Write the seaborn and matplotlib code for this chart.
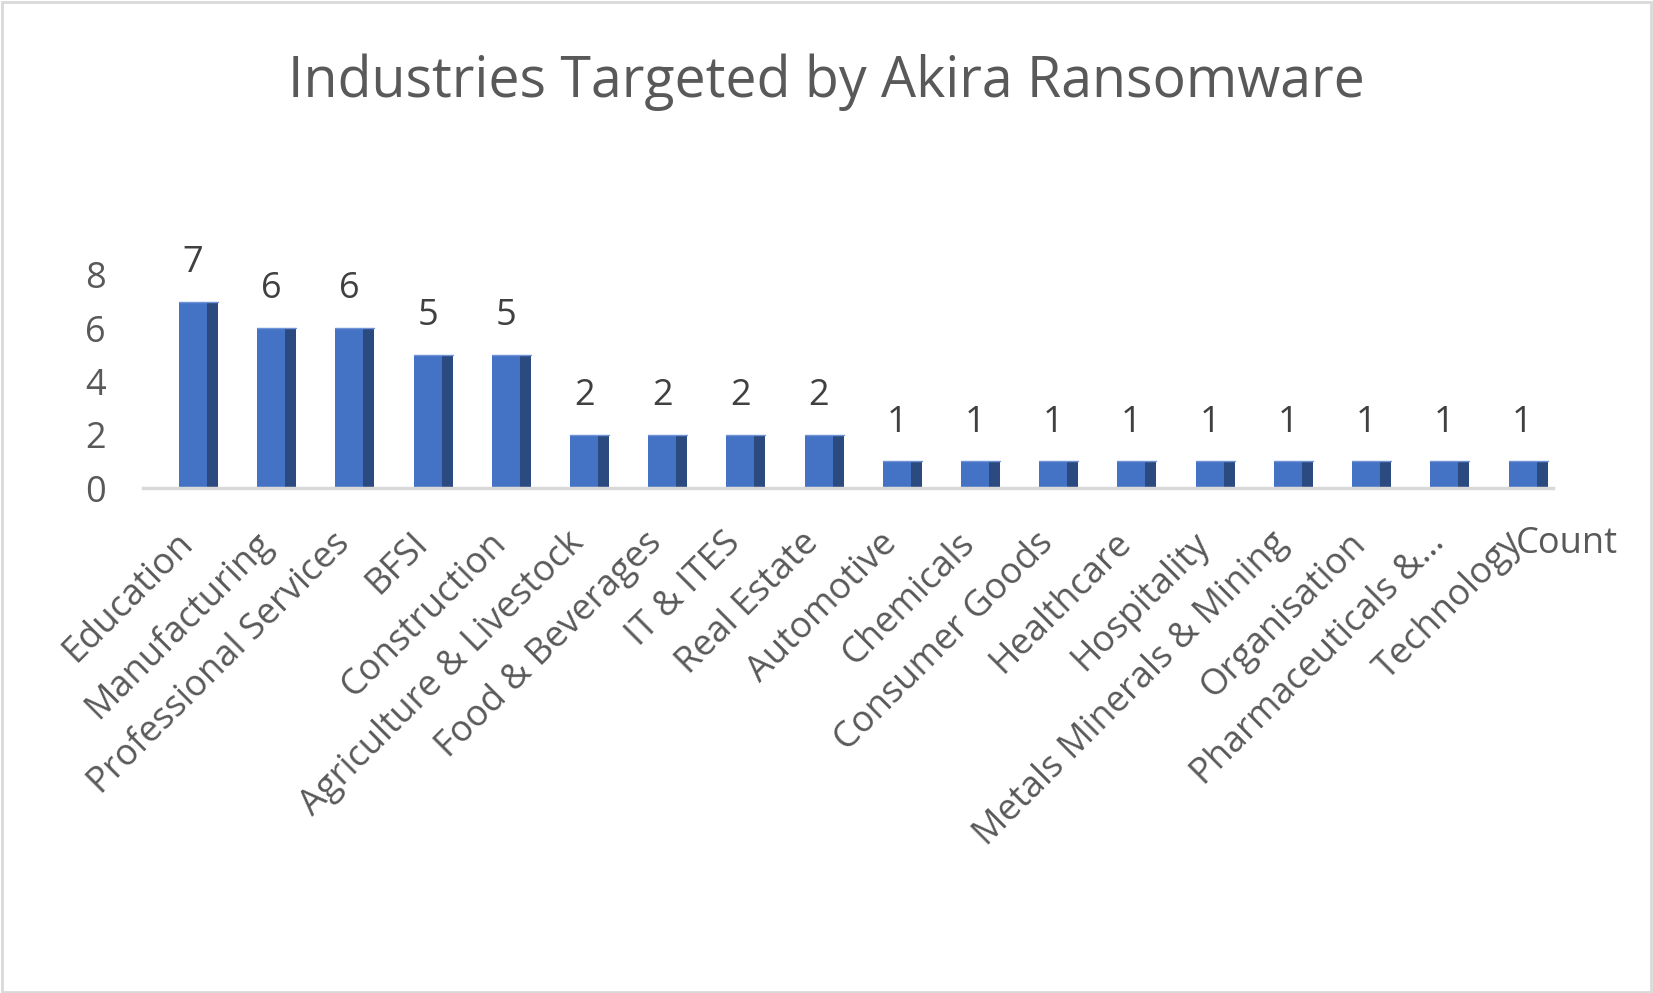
import matplotlib
matplotlib.use("Agg")
import matplotlib.pyplot as plt
import matplotlib.transforms as mtransforms
import seaborn as sns
from matplotlib.patches import Rectangle

# 데이터
categories = ["Education", "Manufacturing", "Professional Services", "BFSI",
              "Construction", "Agriculture & Livestock", "Food & Beverages",
              "IT & ITES", "Real Estate", "Automotive", "Chemicals",
              "Consumer Goods", "Healthcare", "Hospitality",
              "Metals Minerals & Mining", "Organisation", "Pharmaceuticals &…",
              "Technology"]
counts = [7, 6, 6, 5, 5, 2, 2, 2, 2, 1, 1, 1, 1, 1, 1, 1, 1, 1]
yticks = [0, 2, 4, 6, 8]
title = "Industries Targeted by Akira Ransomware"
legend_label = "Count"

sns.set_theme(style="white")
plt.rcParams['font.family'] = ['Open Sans', 'DejaVu Sans']

front = "#4472C4"
side = "#2B4A7F"
gray = "#595959"

W, H = 1653, 993
fig = plt.figure(figsize=(W / 100, H / 100), dpi=100)
ax = fig.add_axes([143 / W, 1 - 488 / H, 1410 / W, 213 / H])

front_w = 28 / 78.2
side_w = 11 / 78.2
sns.barplot(x=categories, y=counts, color=front, saturation=1, width=front_w, ax=ax,
            linewidth=0, edgecolor="none")

# 옆면 (3D 느낌)
for p in list(ax.patches):
    x0 = p.get_x() + p.get_width()
    ax.add_patch(Rectangle((x0, 0), side_w, p.get_height(), color=side, lw=0))
    ax.plot([p.get_x(), x0 + side_w], [p.get_height()] * 2, color="#6f93d6", lw=1)
    ax.annotate(str(int(p.get_height())), (p.get_x() + p.get_width() / 2, p.get_height()),
                xytext=(0, 15), textcoords="offset points", ha="center", va="bottom",
                fontsize=26, color="#404040")

ax.set_xlim(-0.64, 17.39)
ax.set_ylim(0, 8)
ax.set_yticks(yticks)
ax.set_xlabel("")
ax.set_ylabel("")
for s in ["top", "right", "left"]:
    ax.spines[s].set_visible(False)
ax.spines["bottom"].set_color("#d9d9d9")
ax.spines["bottom"].set_linewidth(2.5)
ax.tick_params(axis="y", length=0, pad=27, labelsize=26, labelcolor=gray)
ax.tick_params(axis="x", length=0, pad=36, labelsize=26, labelcolor=gray)
shift = mtransforms.ScaledTranslation(-5 / 100, 0, fig.dpi_scale_trans)
for t in ax.get_xticklabels():
    t.set_rotation(45)
    t.set_ha("right")
    t.set_va("center")
    t.set_rotation_mode("anchor")
    t.set_transform(t.get_transform() + shift)

fig.text(0.5, 1 - 82 / H, title, ha="center", va="center", fontsize=40, color=gray)
fig.text(1516 / W, 1 - 544 / H, legend_label, ha="left", va="center", fontsize=26, color=gray)

fig.add_artist(Rectangle((0.001, 0.001), 0.998, 0.997, transform=fig.transFigure,
                         fill=False, edgecolor="#d9d9d9", lw=2))

fig.savefig("out.png", dpi=100)
